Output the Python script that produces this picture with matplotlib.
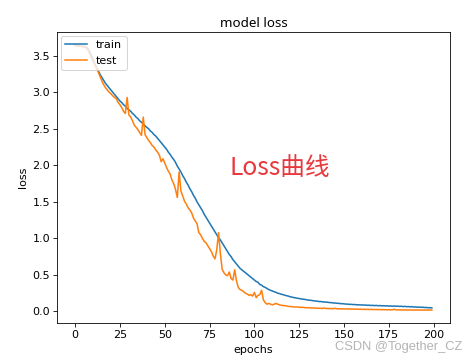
import matplotlib
matplotlib.use("Agg")
import matplotlib.pyplot as plt

epochs = list(range(200))

train_loss = [
    3.64, 3.64, 3.64, 3.63, 3.63, 3.63, 3.62, 3.60, 3.56, 3.51,
    3.45, 3.39, 3.34, 3.29, 3.24, 3.20, 3.16, 3.12, 3.09, 3.06,
    3.03, 3.00, 2.97, 2.94, 2.91, 2.88, 2.86, 2.83, 2.81, 2.78,
    2.76, 2.74, 2.71, 2.69, 2.66, 2.64, 2.61, 2.59, 2.57, 2.54,
    2.52, 2.50, 2.47, 2.45, 2.42, 2.40, 2.37, 2.34, 2.31, 2.28,
    2.25, 2.22, 2.18, 2.15, 2.11, 2.08, 2.04, 1.99, 1.95, 1.91,
    1.86, 1.82, 1.77, 1.73, 1.68, 1.64, 1.59, 1.55, 1.50, 1.46,
    1.42, 1.38, 1.33, 1.29, 1.25, 1.21, 1.17, 1.13, 1.09, 1.05,
    1.01, 0.98, 0.94, 0.90, 0.86, 0.82, 0.78, 0.75, 0.71, 0.68,
    0.65, 0.62, 0.59, 0.57, 0.55, 0.53, 0.51, 0.49, 0.47, 0.45,
    0.43, 0.41, 0.40, 0.37, 0.36, 0.34, 0.33, 0.315, 0.30, 0.29,
    0.28, 0.27, 0.262, 0.25, 0.245, 0.235, 0.23, 0.222, 0.215, 0.21,
    0.20, 0.197, 0.19, 0.186, 0.18, 0.178, 0.171, 0.168, 0.166, 0.16,
    0.156, 0.153, 0.151, 0.146, 0.144, 0.141, 0.136, 0.136, 0.131, 0.130,
    0.127, 0.126, 0.121, 0.121, 0.116, 0.116, 0.112, 0.111, 0.107, 0.107,
    0.104, 0.101, 0.101, 0.097, 0.098, 0.094, 0.095, 0.091, 0.092, 0.089,
    0.090, 0.087, 0.088, 0.084, 0.086, 0.082, 0.084, 0.080, 0.083, 0.078,
    0.081, 0.077, 0.079, 0.075, 0.078, 0.073, 0.076, 0.072, 0.075, 0.071,
    0.073, 0.069, 0.072, 0.066, 0.070, 0.065, 0.067, 0.063, 0.066, 0.060,
    0.062, 0.058, 0.060, 0.056, 0.058, 0.054, 0.055, 0.051, 0.052, 0.048,
]

test_loss = [
    3.64, 3.64, 3.63, 3.63, 3.62, 3.62, 3.61, 3.58, 3.53, 3.47,
    3.42, 3.37, 3.32, 3.27, 3.21, 3.15, 3.10, 3.06, 3.03, 3.00,
    2.98, 2.95, 2.93, 2.91, 2.86, 2.83, 2.79, 2.74, 2.71, 2.93,
    2.69, 2.66, 2.61, 2.55, 2.52, 2.49, 2.45, 2.41, 2.66, 2.42,
    2.38, 2.34, 2.31, 2.27, 2.25, 2.21, 2.18, 2.14, 2.05, 2.09,
    2.03, 1.97, 1.92, 1.88, 1.80, 1.75, 1.67, 1.56, 1.91, 1.65,
    1.58, 1.51, 1.47, 1.42, 1.39, 1.35, 1.28, 1.24, 1.20, 1.08,
    1.05, 1.00, 0.96, 0.94, 0.90, 0.86, 0.82, 0.76, 0.72, 0.84,
    1.08, 0.80, 0.58, 0.53, 0.50, 0.49, 0.54, 0.45, 0.43, 0.57,
    0.42, 0.33, 0.30, 0.29, 0.27, 0.25, 0.24, 0.22, 0.23, 0.21,
    0.26, 0.19, 0.22, 0.23, 0.29, 0.16, 0.12, 0.10, 0.11, 0.10,
    0.09, 0.10, 0.11, 0.10, 0.09, 0.085, 0.08, 0.08, 0.075, 0.07,
    0.068, 0.065, 0.063, 0.060, 0.062, 0.058, 0.055, 0.057, 0.053, 0.050,
    0.052, 0.049, 0.047, 0.048, 0.045, 0.046, 0.043, 0.044, 0.041, 0.047,
    0.040, 0.041, 0.038, 0.040, 0.037, 0.044, 0.036, 0.037, 0.035, 0.036,
    0.034, 0.035, 0.033, 0.034, 0.032, 0.033, 0.031, 0.032, 0.030, 0.031,
    0.029, 0.030, 0.028, 0.029, 0.027, 0.028, 0.027, 0.026, 0.027, 0.025,
    0.026, 0.024, 0.025, 0.024, 0.023, 0.024, 0.022, 0.023, 0.030, 0.022,
    0.021, 0.022, 0.021, 0.020, 0.021, 0.020, 0.020, 0.021, 0.019, 0.020,
    0.019, 0.020, 0.019, 0.019, 0.020, 0.019, 0.019, 0.020, 0.019, 0.019,
]

series_names = ["train", "test"]
title_text = "model loss"
x_label = "epochs"
y_label = "loss"
annotation = "Loss曲线"
watermark = "CSDN @Together_CZ"

DPI = 74
plt.rcParams["font.size"] = 10.8
fig = plt.figure(figsize=(474 / DPI, 362 / DPI), dpi=DPI)
ax = fig.add_axes([57.3 / 474, (362 - 323.3) / 362, (449.7 - 57.3) / 474, (323.3 - 32.3) / 362])

ax.plot(epochs, train_loss, color="#1f77b4", lw=1.5, label=series_names[0])
ax.plot(epochs, test_loss, color="#ff7f0e", lw=1.5, label=series_names[1])

ax.set_title(title_text, fontsize=13, family=["Noto Sans", "DejaVu Sans"], pad=5)
ax.set_xlabel(x_label)
ax.set_ylabel(y_label)
ax.set_xticks([0, 25, 50, 75, 100, 125, 150, 175, 200])
ax.set_yticks([0.0, 0.5, 1.0, 1.5, 2.0, 2.5, 3.0, 3.5])
ax.legend(loc="upper left", borderaxespad=0.3)

fig.text(280 / 474, 1 - 168 / 362, annotation, color="#e8383d", fontsize=24,
         family=["Noto Sans CJK SC", "DejaVu Sans"], ha="center", va="center")
fig.text(462 / 474, 1 - 347 / 362, watermark, color="#b4b4b4", fontsize=12.5,
         family=["Liberation Sans", "DejaVu Sans"], ha="right", va="center")

fig.savefig("out.png", dpi=DPI)
